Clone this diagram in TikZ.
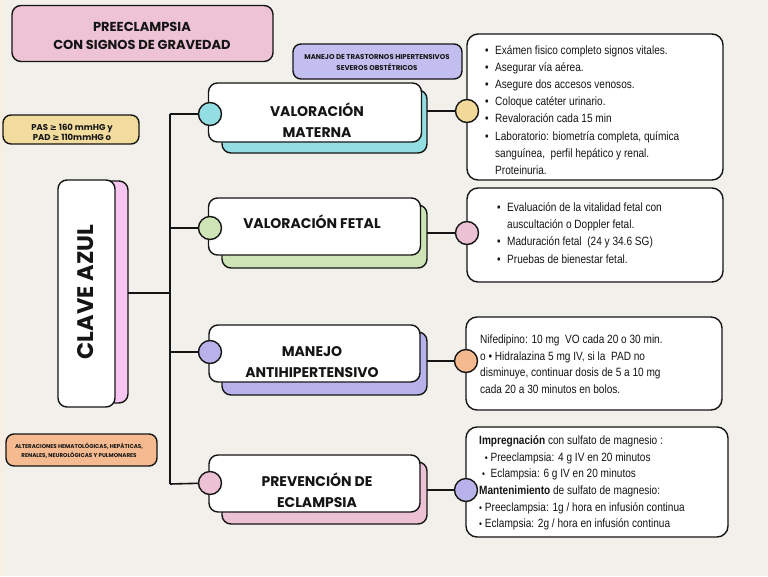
\documentclass[tikz,border=0pt]{standalone}
\usepackage{fontspec}
\setmainfont{Liberation Sans}[FakeStretch=0.84]
\newfontfamily\headfont{Poppins}
\newfontfamily\symfont{DejaVu Sans}
\definecolor{bgc}{HTML}{F2F0EA}
\definecolor{stripc}{HTML}{F7EFE3}
\definecolor{titlepink}{HTML}{EEC3D5}
\definecolor{lavsmall}{HTML}{C3BEF0}
\definecolor{yelsmall}{HTML}{F2DC9D}
\definecolor{peachsmall}{HTML}{F5BA90}
\definecolor{clavepink}{HTML}{F7C6F0}
\definecolor{cyanc}{HTML}{93DEE2}
\definecolor{greenc}{HTML}{CFE4B6}
\definecolor{lavc}{HTML}{B8B2EA}
\definecolor{pinkc}{HTML}{EBC1D3}
\definecolor{yelc}{HTML}{F2D999}
\definecolor{peachc}{HTML}{F4B98E}
\definecolor{inkc}{HTML}{151515}
\newcommand\itm{\makebox[10pt][l]{•}}
\newcommand\cnt{\hspace*{10pt}}
\newcommand\sbul{{\fontsize{10}{10}\selectfont•}}
\begin{document}
\begin{tikzpicture}[x=1pt,y=-1pt,
  box/.style={rectangle,draw=inkc,line width=1.4pt,rounded corners=9pt,inner sep=0pt,outer sep=0pt},
  whitebox/.style={box,fill=white},
  dot/.style={circle,draw=inkc,line width=1.4pt,minimum size=23pt,inner sep=0pt,outer sep=0pt},
  conn/.style={draw=inkc,line width=1.6pt},
  head/.style={font=\headfont\bfseries\fontsize{14}{21}\selectfont,align=center,text=inkc,inner sep=0pt},
  info/.style={font=\fontsize{12}{17.2}\selectfont,align=left,text=inkc,inner sep=0pt,anchor=west},
  small/.style={font=\headfont\bfseries,align=center,text=inkc,inner sep=0pt}
]
\useasboundingbox (0,0) rectangle (768,576);
\fill[bgc] (0,0) rectangle (768,576);
\fill[stripc] (0,0) rectangle (5,576);

% title
\node[box,fill=titlepink,minimum width=261pt,minimum height=56pt] (title) at (142.5,33.5) {};
\node[small,font=\headfont\bfseries\fontsize{13}{17.5}\selectfont] (titlet) at (142,36) {PREECLAMPSIA\\CON SIGNOS DE GRAVEDAD};

% small boxes
\node[box,fill=lavsmall,minimum width=169pt,minimum height=35pt,rounded corners=8pt] (mts) at (377.5,61.5) {};
\node[small,font=\headfont\bfseries\fontsize{7}{11}\selectfont] (mtst) at (377,62.5) {MANEJO DE TRASTORNOS HIPERTENSIVOS\\SEVEROS OBSTÉTRICOS};

\node[box,fill=yelsmall,minimum width=136pt,minimum height=29pt,rounded corners=8pt] (pas) at (71,129.5) {};
\node[small,font=\headfont\bfseries\fontsize{8.5}{10}\selectfont] (past) at (72,132) {PAS {\symfont\bfseries≥} 160 mmHG y\\PAD {\symfont\bfseries≥} 110mmHG o};

\node[box,fill=peachsmall,minimum width=151pt,minimum height=32pt,rounded corners=8pt] (alt) at (81.5,450) {};
\node[small,font=\headfont\bfseries\fontsize{5.6}{9}\selectfont] (altt) at (79,450.5) {ALTERACIONES HEMATOLÓGICAS, HEPÁTICAS,\\RENALES, NEUROLÓGICAS Y PULMONARES};

% clave azul
\node[box,fill=clavepink,minimum width=58pt,minimum height=222pt] (claveS) at (99,292) {};
\node[whitebox,minimum width=57pt,minimum height=227pt] (clave) at (86.5,293.5) {};
\node[small,rotate=90,font=\headfont\bfseries\fontsize{22.5}{24}\selectfont] (clavet) at (86,292) {CLAVE AZUL};

% trunk
\coordinate (tr) at (170,293);
\coordinate (t1) at (170,114);
\coordinate (t2) at (170,228);
\coordinate (t3) at (170,352);
\coordinate (t4) at (170,484);
\draw[conn] (t1) -- (t4);
\draw[conn] (claveS.east |- tr) -- (tr);

% headings: shadows
\node[box,fill=cyanc,minimum width=205pt,minimum height=63pt] (h1s) at (324.5,121.5) {};
\node[box,fill=greenc,minimum width=205pt,minimum height=63pt] (h2s) at (324.5,236.5) {};
\node[box,fill=lavc,minimum width=205pt,minimum height=63pt] (h3s) at (324.5,363.5) {};
\node[box,fill=pinkc,minimum width=205pt,minimum height=62pt] (h4s) at (324.5,493) {};
% headings: white
\node[whitebox,minimum width=213pt,minimum height=59pt] (h1) at (315,112.5) {};
\node[whitebox,minimum width=212pt,minimum height=57pt] (h2) at (314.5,226.5) {};
\node[whitebox,minimum width=211pt,minimum height=57pt] (h3) at (314.5,353.5) {};
\node[whitebox,minimum width=211pt,minimum height=57pt] (h4) at (314.5,483.5) {};
\node[head] (h1t) at (317,120.5) {VALORACIÓN\\MATERNA};
\node[head] (h2t) at (312,222) {VALORACIÓN FETAL};
\node[head] (h3t) at (312,362) {MANEJO\\ANTIHIPERTENSIVO};
\node[head] (h4t) at (317,490) {PREVENCIÓN DE\\ECLAMPSIA};

% left dots
\node[dot,fill=cyanc] (c1) at (210,114) {};
\node[dot,fill=greenc] (c2) at (210,228) {};
\node[dot,fill=lavc] (c3) at (210,352) {};
\node[dot,fill=pinkc] (c4) at (210,483) {};
\draw[conn] (t1) -- (c1);
\draw[conn] (t2) -- (c2);
\draw[conn] (t3) -- (c3);
\draw[conn] (t4) -- (c4);

% info boxes
\node[whitebox,minimum width=256pt,minimum height=146pt,rounded corners=11pt] (i1) at (595,107) {};
\node[whitebox,minimum width=256pt,minimum height=94pt,rounded corners=11pt] (i2) at (595,235) {};
\node[whitebox,minimum width=256pt,minimum height=93pt,rounded corners=11pt] (i3) at (594,363.5) {};
\node[whitebox,minimum width=262pt,minimum height=110pt,rounded corners=11pt] (i4) at (597,482) {};

\node[dot,fill=yelc] (d1) at (467,111) {};
\node[dot,fill=pinkc] (d2) at (467,233) {};
\node[dot,fill=peachc] (d3) at (466,361) {};
\node[dot,fill=lavc] (d4) at (466,490) {};
\draw[conn] (h1s.east |- d1) -- (d1);
\draw[conn] (h2s.east |- d2) -- (d2);
\draw[conn] (h3s.east |- d3) -- (d3);
\draw[conn] (h4s.east |- d4) -- (d4);

\node[info] (i1t) at (485,110) {\itm Exámen fisico completo signos vitales.\\
\itm Asegurar vía aérea.\\
\itm Asegure dos accesos venosos.\\
\itm Coloque catéter urinario.\\
\itm Revaloración cada 15 min\\
\itm Laboratorio: biometría completa, química\\
\cnt sanguínea,\ \ perfil hepático y renal.\\
\cnt Proteinuria.};

\node[info] (i2t) at (497,233) {\itm Evaluación de la vitalidad fetal con\\
\cnt auscultación o Doppler fetal.\\
\itm Maduración fetal\ \ (24 y 34.6 SG)\\
\itm Pruebas de bienestar fetal.};

\node[info,font=\fontsize{12}{16.5}\selectfont] (i3t) at (480,364) {Nifedipino: 10 mg\ \ VO cada 20 o 30 min.\\
o • Hidralazina 5 mg IV, si la\ \ PAD no\\
disminuye, continuar dosis de 5 a 10 mg\\
cada 20 a 30 minutos en bolos.};

\node[info,font=\fontsize{12}{16.6}\selectfont] (i4t) at (479,483) {\textbf{Impregnación} con sulfato de magnesio :\\
\ \ \sbul\ Preeclampsia: 4 g IV en 20 minutos\\
\ \sbul\ \ Eclampsia: 6 g IV en 20 minutos\\
\textbf{Mantenimiento} de sulfato de magnesio:\\
\sbul\ Preeclampsia: 1g / hora en infusión continua\\
\sbul\ Eclampsia: 2g / hora en infusión continua};
\end{tikzpicture}
\end{document}
